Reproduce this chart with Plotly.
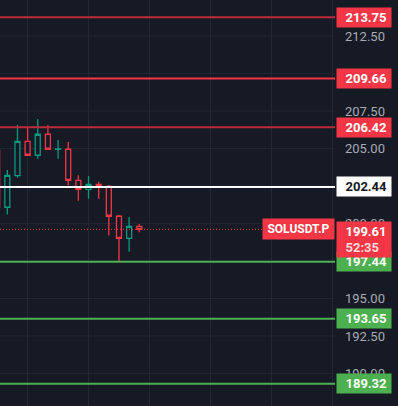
import plotly.graph_objects as go

# ---- data ----
candle_idx = list(range(15))
opens  = [204.90, 201.08, 203.19, 205.48, 204.55, 205.95, 204.95, 204.95, 202.88, 202.28, 202.61, 202.48, 200.48, 199.01, 199.81]
highs  = [204.95, 203.57, 206.57, 206.39, 206.97, 206.57, 205.57, 205.43, 203.21, 203.17, 202.79, 202.57, 200.57, 200.43, 199.97]
lows   = [201.00, 200.59, 203.05, 204.55, 204.32, 204.95, 204.32, 202.55, 201.52, 201.65, 201.65, 199.19, 197.41, 198.12, 199.41]
closes = [201.08, 203.21, 205.48, 204.55, 205.95, 204.95, 204.97, 202.88, 202.28, 202.61, 202.48, 200.48, 199.01, 199.81, 199.61]

# price-axis tick labels that are visible (others are fully covered by level labels)
y_tick_vals = [190.00, 192.50, 195.00, 200.00, 205.00, 207.50, 212.50]
y_tick_text = [f"{v:.2f}" for v in y_tick_vals]
y_grid_vals = [187.50, 190.00, 192.50, 195.00, 197.50, 200.00, 202.50, 205.00, 207.50, 210.00, 212.50]

resistance_levels = [213.75, 209.66, 206.42]
pivot_levels = [202.44]
support_levels = [197.44, 193.65, 189.32]
last_price = 199.61
countdown = "52:35"
symbol = "SOLUSDT.P"

BG = "#161a25"
GRID = "#232733"
UP = "#089981"
DOWN = "#f23645"
RED_LABEL = "#f23645"
GREEN = "#4caf50"
res_line_colors = ["#bd2d39", "#f23645", "#bd2d39"]

fig = go.Figure()
fig.add_trace(go.Candlestick(
    x=candle_idx, open=opens, high=highs, low=lows, close=closes,
    increasing=dict(line=dict(color=UP, width=1.3), fillcolor=BG),
    decreasing=dict(line=dict(color=DOWN, width=1.3), fillcolor=BG),
    hoverinfo="skip", showlegend=False,
))

shapes = []
annotations = []
FONT = "Roboto"

# horizontal grid lines on the price axis (drawn below everything)
for g in y_grid_vals:
    shapes.append(dict(type="line", xref="paper", x0=0, x1=1, yref="y", y0=g, y1=g,
                       line=dict(color=GRID, width=1), layer="below"))

def level_label(v, bg, fg):
    return dict(
        xref="paper", x=1, xanchor="left", xshift=1,
        yref="y", y=v, yanchor="middle",
        text="&nbsp;&nbsp;" + f"{v:.2f}", showarrow=False, align="left",
        width=50, height=15, borderpad=2, bgcolor=bg,
        font=dict(family=FONT, size=13, color=fg, weight="bold"),
    )

for v, c in zip(resistance_levels, res_line_colors):
    shapes.append(dict(type="line", xref="paper", x0=0, x1=1, yref="y", y0=v, y1=v,
                       line=dict(color=c, width=2), layer="above"))
    annotations.append(level_label(v, RED_LABEL, "white"))

for v in pivot_levels:
    shapes.append(dict(type="line", xref="paper", x0=0, x1=1, yref="y", y0=v, y1=v,
                       line=dict(color="white", width=2), layer="above"))
    annotations.append(level_label(v, "white", "#131722"))

for v in support_levels:
    shapes.append(dict(type="line", xref="paper", x0=0, x1=1, yref="y", y0=v, y1=v,
                       line=dict(color=GREEN, width=2), layer="above"))
    annotations.append(level_label(v, GREEN, "white"))

# last price dotted line
shapes.append(dict(type="line", xref="paper", x0=0, x1=1, yref="y", y0=last_price, y1=last_price,
                   line=dict(color=DOWN, width=1, dash="1px,2px"), layer="above"))

# symbol label
annotations.append(dict(
    xref="paper", x=1, xanchor="right", xshift=0,
    yref="y", y=last_price, yanchor="middle",
    text=symbol, showarrow=False, align="center",
    width=65, height=14, borderpad=3, bgcolor=RED_LABEL,
    font=dict(family=FONT, size=12, color="white", weight="bold"),
))
# last price + countdown label
annotations.append(dict(
    xref="paper", x=1, xanchor="left", xshift=1,
    yref="y", y=last_price, yanchor="top", yshift=8.5,
    text="&nbsp;&nbsp;" + f"{last_price:.2f}" + "<br>&nbsp;&nbsp;<span style='color:rgba(255,255,255,0.82)'>" + countdown + "</span>",
    showarrow=False, align="left",
    width=50, height=31, borderpad=2, bgcolor=RED_LABEL,
    font=dict(family=FONT, size=13, color="white", weight="bold"),
))

fig.update_layout(
    width=398, height=406,
    margin=dict(l=0, r=63, t=0, b=0, pad=0),
    paper_bgcolor=BG, plot_bgcolor=BG,
    shapes=shapes, annotations=annotations,
    hovermode=False, dragmode=False,
    xaxis=dict(range=[0.28, 33.28], rangeslider=dict(visible=False),
               showticklabels=False, tick0=3, dtick=6, tickmode="linear",
               showgrid=True, gridcolor=GRID, gridwidth=1, zeroline=False,
               showline=False, fixedrange=True),
    yaxis=dict(range=[187.83, 214.9], side="right", tickmode="array",
               tickvals=y_tick_vals, ticktext=y_tick_text, showgrid=False,
               zeroline=False, showline=False, ticks="", ticklabelstandoff=9,
               tickfont=dict(family=FONT, size=13, color="#a7aab3"), fixedrange=True),
)

fig.write_html("out.html", config={"displayModeBar": False, "staticPlot": True},
               post_script="document.body.style.margin='0';")
